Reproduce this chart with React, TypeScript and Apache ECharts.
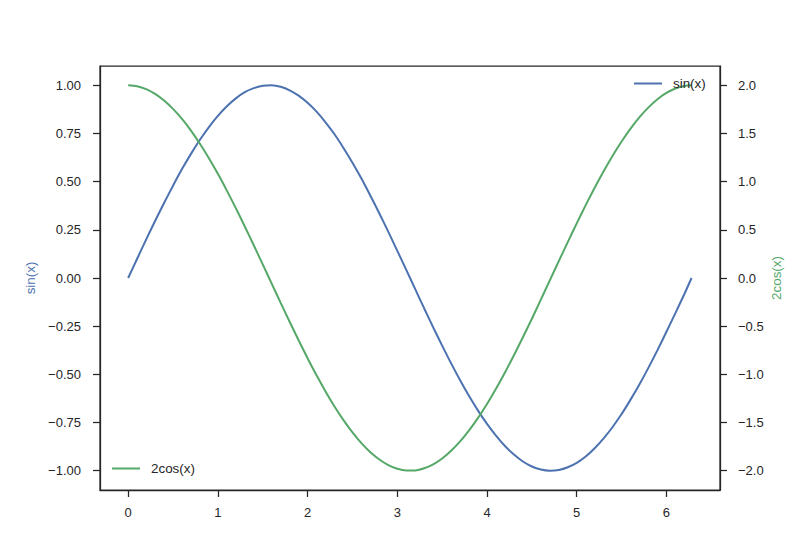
import React, { useEffect, useRef } from "react";
import * as echarts from "echarts";

// values (x in steps of 0.1, last point at 2π)
const xValues = [
  0, 0.1, 0.2, 0.3, 0.4, 0.5, 0.6, 0.7, 0.8, 0.9, 1.0, 1.1, 1.2, 1.3, 1.4, 1.5,
  1.6, 1.7, 1.8, 1.9, 2.0, 2.1, 2.2, 2.3, 2.4, 2.5, 2.6, 2.7, 2.8, 2.9, 3.0, 3.1,
  3.2, 3.3, 3.4, 3.5, 3.6, 3.7, 3.8, 3.9, 4.0, 4.1, 4.2, 4.3, 4.4, 4.5, 4.6, 4.7,
  4.8, 4.9, 5.0, 5.1, 5.2, 5.3, 5.4, 5.5, 5.6, 5.7, 5.8, 5.9, 6.0, 6.1, 6.2,
  6.28,
];
const sinValues = [
  0.0, 0.1, 0.199, 0.296, 0.389, 0.479, 0.565, 0.644, 0.717, 0.783, 0.841,
  0.891, 0.932, 0.964, 0.985, 0.997, 1.0, 0.992, 0.974, 0.946, 0.909, 0.863,
  0.808, 0.746, 0.675, 0.598, 0.516, 0.427, 0.335, 0.239, 0.141, 0.042, -0.058,
  -0.158, -0.256, -0.351, -0.443, -0.53, -0.612, -0.688, -0.757, -0.818, -0.872,
  -0.916, -0.952, -0.978, -0.994, -1.0, -0.996, -0.982, -0.959, -0.926, -0.883,
  -0.832, -0.773, -0.706, -0.631, -0.551, -0.465, -0.374, -0.279, -0.182,
  -0.083, 0.0,
];
const cosValues = [
  2.0, 1.99, 1.96, 1.911, 1.842, 1.755, 1.651, 1.53, 1.393, 1.243, 1.081, 0.907,
  0.725, 0.535, 0.34, 0.141, -0.058, -0.258, -0.454, -0.646, -0.832, -1.01,
  -1.177, -1.333, -1.475, -1.602, -1.714, -1.808, -1.884, -1.942, -1.98, -1.998,
  -1.997, -1.975, -1.934, -1.873, -1.793, -1.696, -1.581, -1.451, -1.307,
  -1.149, -0.98, -0.802, -0.615, -0.423, -0.225, -0.025, 0.175, 0.373, 0.567,
  0.756, 0.937, 1.108, 1.269, 1.417, 1.551, 1.669, 1.771, 1.855, 1.92, 1.966,
  1.993, 2.0,
];
const xTicks = [0, 1, 2, 3, 4, 5, 6];
const leftTicks = [-1, -0.75, -0.5, -0.25, 0, 0.25, 0.5, 0.75, 1];
const rightTicks = [-2, -1.5, -1, -0.5, 0, 0.5, 1, 1.5, 2];

const BLUE = "#4C72B0";
const GREEN = "#55A868";
const INK = "#262626";
const FONT = "'Liberation Sans', Arial, sans-serif";

const fmt = (v: number, d: number) =>
  (v < 0 ? "\u2212" : "") + Math.abs(v).toFixed(d);

const App = () => {
  const chartRef = useRef<HTMLDivElement | null>(null);

  useEffect(() => {
    document.body.style.margin = "0";
    if (!chartRef.current) return;
    const myChart = echarts.init(chartRef.current, undefined, { renderer: "svg" });

    const axisLine = { show: true, onZero: false, lineStyle: { color: INK, width: 1.25 } };
    const tickStyle = {
      show: true,
      inside: false,
      length: 7,
      lineStyle: { color: INK, width: 1.25 },
    };
    const labelStyle = { color: INK, fontFamily: FONT, fontSize: 13 };
    const legendBase = {
      icon: "rect",
      itemWidth: 28,
      itemHeight: 2,
      padding: 0,
      textStyle: { color: INK, fontSize: 13.4, fontFamily: FONT, padding: [0, 0, 0, 6] },
    };

    const option = {
      animation: false,
      backgroundColor: "#fff",
      textStyle: { fontFamily: FONT },
      grid: {
        left: 100,
        right: 80,
        top: 66,
        bottom: 60,
        show: true,
        borderColor: INK,
        borderWidth: 1.25,
        containLabel: false,
      },
      legend: [
        { ...legendBase, data: ["sin(x)"], left: 634, top: 77 },
        { ...legendBase, data: ["2cos(x)"], left: 112, top: 462 },
      ],
      xAxis: {
        type: "value",
        min: -0.314,
        max: 6.597,
        axisLine,
        axisTick: { ...tickStyle, customValues: xTicks },
        axisLabel: {
          ...labelStyle,
          margin: 16,
          customValues: xTicks,
          formatter: (v: number) => fmt(v, 0),
        },
        splitLine: { show: false },
      },
      yAxis: [
        {
          type: "value",
          position: "left",
          min: -1.1,
          max: 1.1,
          name: "sin(x)",
          nameLocation: "middle",
          nameRotate: 90,
          nameGap: 60,
          nameTextStyle: { color: BLUE, fontSize: 13.4, fontFamily: FONT },
          axisLine,
          axisTick: { ...tickStyle, customValues: leftTicks },
          axisLabel: {
            ...labelStyle,
            margin: 19,
            customValues: leftTicks,
            formatter: (v: number) => fmt(v, 2),
          },
          splitLine: { show: false },
        },
        {
          type: "value",
          position: "right",
          min: -2.2,
          max: 2.2,
          name: "2cos(x)",
          nameLocation: "middle",
          nameRotate: 90,
          nameGap: 50,
          nameMoveOverlap: false,
          nameTextStyle: { color: GREEN, fontSize: 13.4, fontFamily: FONT },
          axisLine,
          axisTick: { ...tickStyle, customValues: rightTicks },
          axisLabel: {
            ...labelStyle,
            margin: 18,
            customValues: rightTicks,
            formatter: (v: number) => fmt(v, 1),
          },
          splitLine: { show: false },
        },
      ],
      series: [
        {
          name: "sin(x)",
          type: "line",
          yAxisIndex: 0,
          data: xValues.map((x, i) => [x, sinValues[i]]),
          smooth: 0.3,
          showSymbol: false,
          itemStyle: { color: BLUE },
          lineStyle: { color: BLUE, width: 2 },
          z: 2,
        },
        {
          name: "2cos(x)",
          type: "line",
          yAxisIndex: 1,
          data: xValues.map((x, i) => [x, cosValues[i]]),
          smooth: 0.3,
          showSymbol: false,
          itemStyle: { color: GREEN },
          lineStyle: { color: GREEN, width: 2 },
          z: 3,
        },
      ],
    };

    myChart.setOption(option);

    return () => {
      myChart.dispose();
    };
  }, []);

  return <div ref={chartRef} style={{ width: "800px", height: "550px" }}></div>;
};

export default App;
